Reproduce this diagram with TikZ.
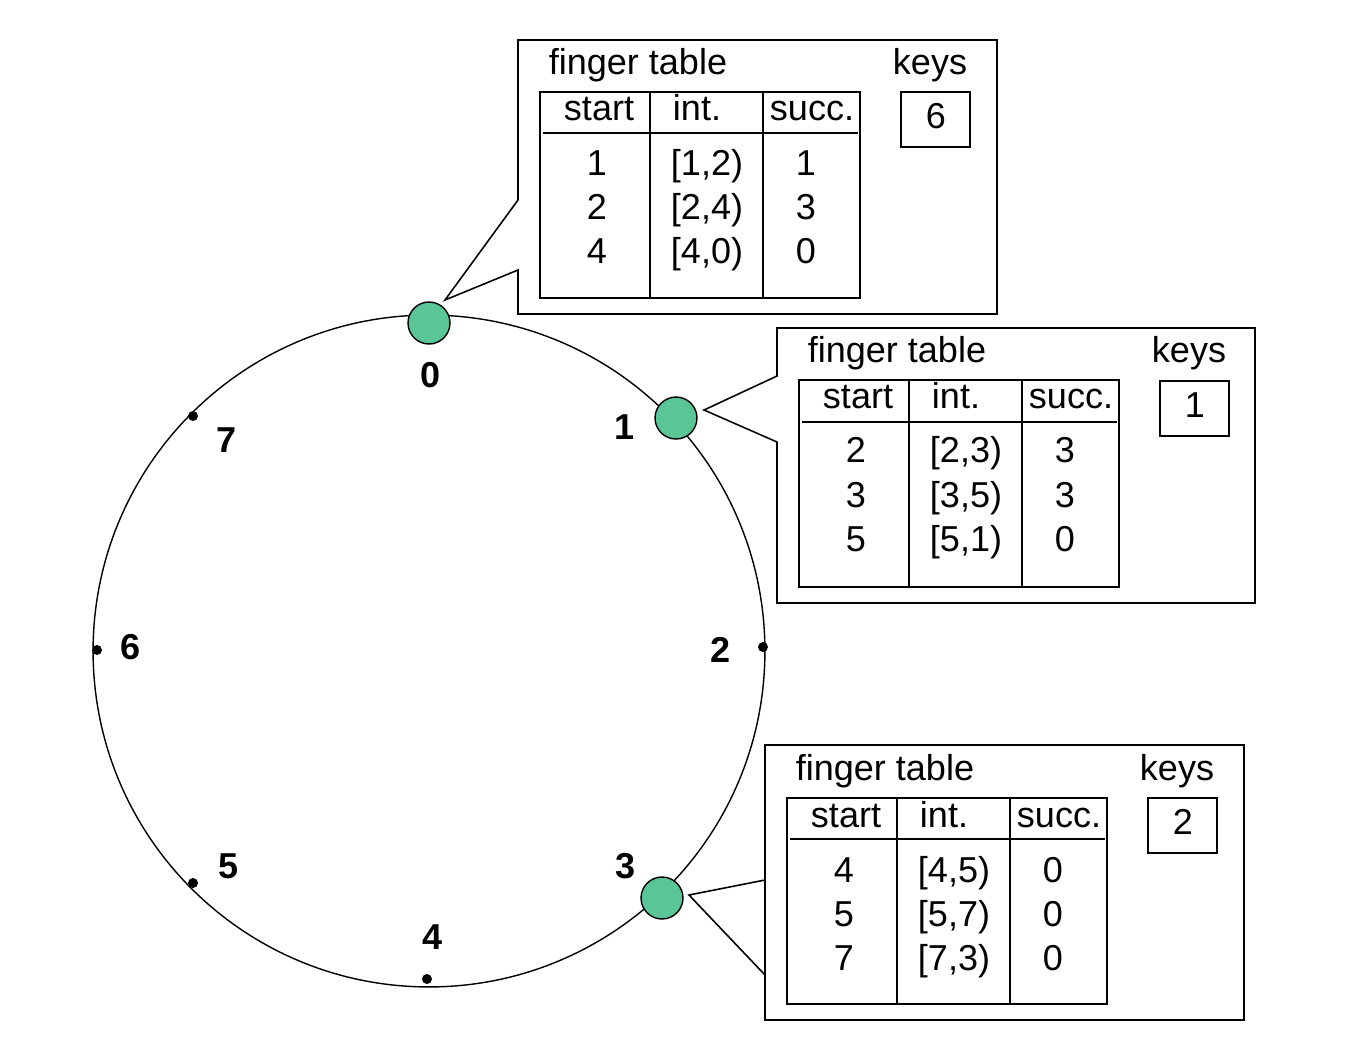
\documentclass[tikz,border=0pt]{standalone}
\usepackage{fontspec}
\setmainfont{Liberation Sans}
\definecolor{nodegreen}{RGB}{90,198,152}
\begin{document}
\begin{tikzpicture}[x=0.02cm,y=-0.02cm,
  lbl/.style={font=\fontsize{20.5}{24}\selectfont\bfseries,inner sep=0pt,anchor=mid},
  txt/.style={font=\fontsize{20.5}{24}\selectfont,inner sep=0pt,anchor=mid},
  peer/.style={circle,draw=black,line width=0.8pt,fill=nodegreen,minimum size=0.84cm,inner sep=0pt},
  dot/.style={circle,fill=black,minimum size=0.2cm,inner sep=0pt},
  box/.style={draw=black,line width=0.9pt},
  ln/.style={line width=0.9pt}]
\useasboundingbox (0,0) rectangle (1350,1062);
% ring
\coordinate (c) at (429,651);
\draw[line width=0.8pt] (c) circle[radius=6.72cm];
\node[peer] (n0) at (429,323) {};
\node[peer] (n1) at (676,418) {};
\node[peer] (n3) at (662,898) {};
\node[dot] (n2) at (763,647) {};
\node[dot] (n4) at (427,979) {};
\node[dot] (n5) at (193,883) {};
\node[dot] (n6) at (97,650) {};
\node[dot] (n7) at (193,416) {};
\node[lbl] (l0) at (431,383) {0};
\node[lbl] (l1) at (625,435) {1};
\node[lbl] (l2) at (721,658) {2};
\node[lbl] (l3) at (626,874) {3};
\node[lbl] (l4) at (433,945) {4};
\node[lbl] (l5) at (229,874) {5};
\node[lbl] (l6) at (131,655) {6};
\node[lbl] (l7) at (227,448) {7};
% box 0
\begin{scope}[shift={(0,0)}]
\draw[box,fill=white] (518,200) -- (518,40) -- (997,40) -- (997,314) -- (518,314) -- (518,270) -- (445,300) -- cycle;
\coordinate (t0) at (445,300);
\draw[ln] (540,92) rectangle (860,298);
\draw[ln] (650,92) -- (650,298) (763,92) -- (763,298) (543,133) -- (858,133);
\draw[ln] (901,92) rectangle (970,147);
\node[txt] (a0) at (638,70) {finger table};
\node[txt] (b0) at (930,70) {keys};
\node[txt] (k0) at (936,124) {6};
\node[txt] at (599,116) {start};
\node[txt] at (697,116) {int.};
\node[txt] at (812,116) {succ.};
\node[txt] at (597,171) {1};\node[txt] at (707,171) {[1,2)};\node[txt] at (806,171) {1};
\node[txt] at (597,215) {2};\node[txt] at (707,215) {[2,4)};\node[txt] at (806,215) {3};
\node[txt] at (597,259) {4};\node[txt] at (707,259) {[4,0)};\node[txt] at (806,259) {0};
\end{scope}
% box 1
\begin{scope}[shift={(259,288)}]
\draw[box,fill=white] (518,88) -- (518,40) -- (996,40) -- (996,315) -- (518,315) -- (518,154) -- (445,122) -- cycle;
\draw[ln] (540,92) rectangle (860,299);
\draw[ln] (650,92) -- (650,299) (763,92) -- (763,299) (543,134) -- (858,134);
\draw[ln] (901,93) rectangle (970,148);
\node[txt] at (638,70) {finger table};
\node[txt] at (930,70) {keys};
\node[txt] at (936,125) {1};
\node[txt] at (599,116) {start};
\node[txt] at (697,116) {int.};
\node[txt] at (812,116) {succ.};
\node[txt] at (597,170) {2};\node[txt] at (707,170) {[2,3)};\node[txt] at (806,170) {3};
\node[txt] at (597,215) {3};\node[txt] at (707,215) {[3,5)};\node[txt] at (806,215) {3};
\node[txt] at (597,259) {5};\node[txt] at (707,259) {[5,1)};\node[txt] at (806,259) {0};
\end{scope}
% box 3
\begin{scope}[shift={(247,706)}]
\draw[box,fill=white] (518,269) -- (518,39) -- (997,39) -- (997,314) -- (518,314) -- cycle;
\draw[box] (518,174) -- (442,189) -- (518,269);
\draw[ln] (540,92) rectangle (860,298);
\draw[ln] (650,92) -- (650,298) (763,92) -- (763,298) (543,133) -- (858,133);
\draw[ln] (901,92) rectangle (970,147);
\node[txt] at (638,70) {finger table};
\node[txt] at (930,70) {keys};
\node[txt] at (936,124) {2};
\node[txt] at (599,117) {start};
\node[txt] at (697,117) {int.};
\node[txt] at (812,117) {succ.};
\node[txt] at (597,172) {4};\node[txt] at (707,172) {[4,5)};\node[txt] at (806,172) {0};
\node[txt] at (597,216) {5};\node[txt] at (707,216) {[5,7)};\node[txt] at (806,216) {0};
\node[txt] at (597,260) {7};\node[txt] at (707,260) {[7,3)};\node[txt] at (806,260) {0};
\end{scope}
\end{tikzpicture}
\end{document}
